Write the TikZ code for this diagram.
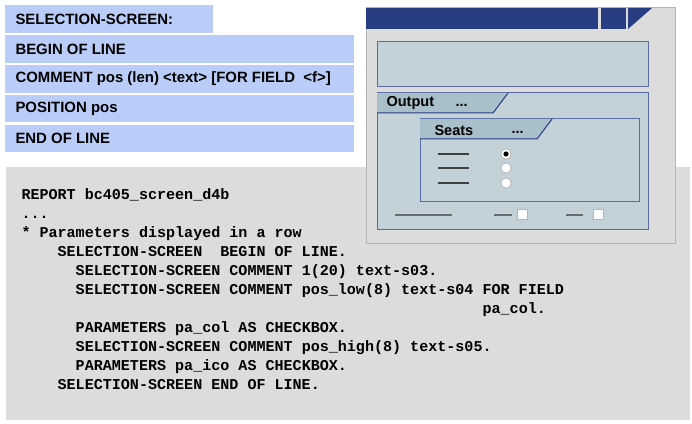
\documentclass[tikz,border=0pt]{standalone}
\usepackage{fontspec}
\setmainfont{Liberation Sans}
\setmonofont{Liberation Mono}
\usetikzlibrary{positioning}

\definecolor{barblue}{RGB}{185,205,248}
\definecolor{codegray}{RGB}{220,220,220}
\definecolor{framegray}{RGB}{180,180,180}
\definecolor{titleblue}{RGB}{40,60,130}
\definecolor{panelfill}{RGB}{194,210,216}
\definecolor{tabfill}{RGB}{169,191,201}
\definecolor{panelline}{RGB}{90,106,165}
\definecolor{dashgray}{RGB}{100,110,110}

\tikzset{every picture/.style={line width=0.75pt}}
\tikzset{
  bartext/.style={anchor=west,inner sep=0.75pt,font=\fontsize{11.2}{13}\selectfont\bfseries},
  tabtext/.style={anchor=west,inner sep=0.75pt,font=\fontsize{10.9}{13}\selectfont\bfseries},
  codetext/.style={anchor=north west,inner sep=0pt,align=left,font=\ttfamily\bfseries\fontsize{11.3}{14.25}\selectfont},
  panel/.style={fill=panelfill,draw=panelline},
  tab/.style={fill=tabfill},
  radio/.style={fill=white,draw=framegray,line width=0.6pt},
  chkbox/.style={fill=white,draw=framegray,line width=0.6pt},
  fieldline/.style={draw=dashgray,line width=1.2pt}
}

\begin{document}
\begin{tikzpicture}[x=0.75pt,y=0.75pt,yscale=-1,xscale=1]
\useasboundingbox (0,0) rectangle (692,424);

%Shape: code area
\fill [codegray] (6,167) rectangle (690,420) ;

%Shape: statement bars
\fill [barblue] (5,5) rectangle (213,33) ;
\fill [barblue] (5,35) rectangle (354,63) ;
\fill [barblue] (5,65) rectangle (354,93) ;
\fill [barblue] (5,95) rectangle (354,122) ;
\fill [barblue] (5,125) rectangle (354,152) ;

% Text Node
\node [bartext] (selscr) at (14,19) {SELECTION-SCREEN:};
% Text Node
\node [bartext] (beginline) at (14,49) {BEGIN OF LINE};
% Text Node
\node [bartext] (comment) at (14,79) {COMMENT pos (len) <text> [FOR FIELD \ <f>]};
% Text Node
\node [bartext] (position) at (14,108.5) {POSITION pos};
% Text Node
\node [bartext] (endline) at (14,138.5) {END OF LINE};

%Shape: window frame
\draw [fill=codegray,draw=framegray] (366,8) rectangle (675,243) ;
%Shape: title bar
\fill [titleblue] (366,8) rectangle (598,29) ;
\fill [titleblue] (601,8) rectangle (626,29) ;
\fill [titleblue] (628,8) -- (652,8) -- (628,29) -- cycle ;

%Shape: top panel
\draw [panel] (377,42) rectangle (648,87) ;

%Shape: Output group
\draw [panel] (377,93) rectangle (648,229) ;
\fill [tab] (377,93) -- (508,93) -- (493,113) -- (377,113) -- cycle ;
\draw [titleblue] (377,113) -- (493,113) -- (508,93) ;
% Text Node
\node [tabtext] (output) at (385,103) {Output};
% Text Node
\node [tabtext] (outdots) at (454,105) {...};

%Shape: Seats group
\draw [panel] (420,119) rectangle (639,201) ;
\fill [tab] (420,119) -- (552,119) -- (537,139) -- (420,139) -- cycle ;
\draw [titleblue] (420,139) -- (537,139) -- (552,119) ;
% Text Node
\node [tabtext] (seats) at (433,130) {Seats};
% Text Node
\node [tabtext] (seatdots) at (510,132) {...};

%Shape: radio buttons
\foreach \yy in {154,168,183} {
  \draw [fieldline,draw=black!75,line width=1pt] (438,\yy) -- (469,\yy) ;
  \draw [radio] (506,\yy) circle (5.2) ;
}
\fill (506,154) circle (2.6) ;

%Shape: check boxes
\draw [fieldline] (395,215) -- (452,215) ;
\draw [fieldline] (494,215) -- (512,215) ;
\draw [chkbox] (517,209.5) rectangle (527,219.5) ;
\draw [fieldline] (566,215) -- (583,215) ;
\draw [chkbox] (593,209.5) rectangle (603,219.5) ;

% Text Node
\node [codetext] (code) at (21,188) {%
REPORT bc405\_screen\_d4b\\
...\\
* Parameters displayed in a row\\
~~~~SELECTION-SCREEN ~BEGIN OF LINE.\\
~~~~~~SELECTION-SCREEN COMMENT 1(20) text-s03.\\
~~~~~~SELECTION-SCREEN COMMENT pos\_low(8) text-s04 FOR FIELD\\
~~~~~~~~~~~~~~~~~~~~~~~~~~~~~~~~~~~~~~~~~~~~~~~~~~~pa\_col.\\
~~~~~~PARAMETERS pa\_col AS CHECKBOX.\\
~~~~~~SELECTION-SCREEN COMMENT pos\_high(8) text-s05.\\
~~~~~~PARAMETERS pa\_ico AS CHECKBOX.\\
~~~~SELECTION-SCREEN END OF LINE.};

\end{tikzpicture}
\end{document}
